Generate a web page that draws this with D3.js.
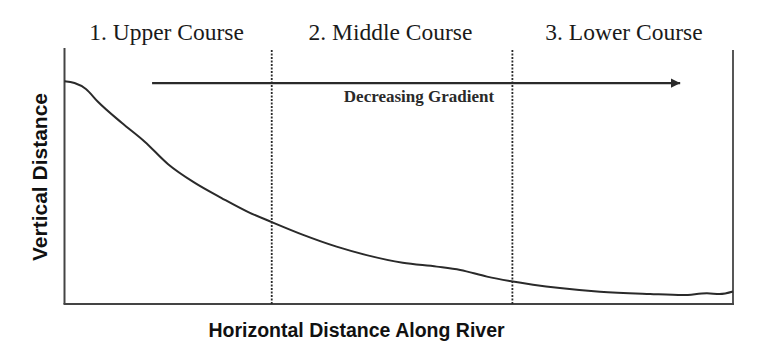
<!DOCTYPE html>
<html><head><meta charset="utf-8">
<script src="https://cdn.jsdelivr.net/npm/d3@7"></script>
<style>html,body{margin:0;padding:0;background:#fff;}svg{display:block;}</style>
</head><body>
<svg id="chart" width="768" height="354"></svg>
<script>
// Stage labels and boundaries (percent of horizontal distance)
const stages = ["1. Upper Course", "2. Middle Course", "3. Lower Course"];
const stageBounds = [0, 31, 67, 100];
// River long profile: horizontal distance (%) vs vertical distance (%)
const profileX = [0, 1.5, 3.2, 5.0, 8.6, 12.0, 15.5, 19.5, 23.5, 27.5, 31.0, 35.7, 40.7, 45.2, 50.6, 55.7, 59.2, 63.2, 66.6, 74.1, 80.1, 87.6, 92.5, 96.1, 98.0, 100];
const profileY = [87.0, 86.3, 84.0, 79.0, 70.7, 63.4, 54.6, 47.3, 41.4, 35.9, 32.0, 27.0, 22.4, 19.1, 16.1, 14.6, 13.3, 10.7, 9.0, 6.25, 4.8, 3.9, 3.5, 4.2, 3.9, 4.9];
// Gradient arrow
const arrowX = [13.1, 92.1];
const arrowY = 86.3;
const arrowLabel = "Decreasing Gradient";
const xLabel = "Horizontal Distance Along River";
const yLabel = "Vertical Distance";

const svg = d3.select("#chart");
const x = d3.scaleLinear().domain([0, 100]).range([64.5, 733]);
const y = d3.scaleLinear().domain([0, 100]).range([304, 48]);
const ink = "#2a2a2a";

svg.append("defs").append("marker")
  .attr("id", "ah").attr("viewBox", "0 0 10 10").attr("refX", 10).attr("refY", 5)
  .attr("markerWidth", 4.2).attr("markerHeight", 4.6).attr("markerUnits", "strokeWidth")
  .attr("orient", "auto")
  .append("path").attr("d", "M0,0 L10,5 L0,10 Z").attr("fill", ink);

// Axes frame (left, bottom, right)
svg.append("line").attr("x1", x(0)).attr("x2", x(0)).attr("y1", y(100)).attr("y2", y(0))
  .attr("stroke", "#444").attr("stroke-width", 2);
svg.append("line").attr("x1", x(0) - 1).attr("x2", x(100) + 1).attr("y1", y(0)).attr("y2", y(0))
  .attr("stroke", "#444").attr("stroke-width", 2);
svg.append("line").attr("x1", x(100)).attr("x2", x(100)).attr("y1", y(99.2)).attr("y2", y(0))
  .attr("stroke", "#444").attr("stroke-width", 1.8);

// Dotted stage boundaries
svg.selectAll("line.bound").data(stageBounds.slice(1, 3)).enter().append("line")
  .attr("class", "bound")
  .attr("x1", d => x(d)).attr("x2", d => x(d))
  .attr("y1", y(99.2)).attr("y2", y(0))
  .attr("stroke", "#2a2a2a").attr("stroke-width", 1.8).attr("stroke-dasharray", "2,1.5");

// Stage titles
svg.selectAll("text.stage").data(stages).enter().append("text")
  .attr("class", "stage")
  .attr("x", (d, i) => [166.5, 390.5, 624][i])
  .attr("y", 40)
  .attr("text-anchor", "middle")
  .attr("font-family", "'Liberation Serif', 'Times New Roman', serif")
  .attr("font-size", 23.5)
  .attr("fill", "#1a1a1a")
  .text(d => d);

// Profile line
const pts = profileX.map((v, i) => [v, profileY[i]]);
svg.append("path").datum(pts)
  .attr("d", d3.line().x(d => x(d[0])).y(d => y(d[1])).curve(d3.curveMonotoneX))
  .attr("fill", "none").attr("stroke", ink).attr("stroke-width", 2);

// Arrow
svg.append("line")
  .attr("x1", x(arrowX[0])).attr("x2", x(arrowX[1]))
  .attr("y1", y(arrowY)).attr("y2", y(arrowY))
  .attr("stroke", ink).attr("stroke-width", 2.2).attr("marker-end", "url(#ah)");
svg.append("text")
  .attr("x", 419).attr("y", 102)
  .attr("text-anchor", "middle")
  .attr("font-family", "'Liberation Serif', 'Times New Roman', serif")
  .attr("font-weight", "bold").attr("font-size", 17)
  .attr("fill", "#2a2a2a")
  .text(arrowLabel);

// Axis labels
svg.append("text")
  .attr("x", 356.5).attr("y", 337)
  .attr("text-anchor", "middle")
  .attr("font-family", "'Liberation Sans', Arial, sans-serif")
  .attr("font-weight", "bold").attr("font-size", 19.5)
  .attr("fill", "#111")
  .text(xLabel);
svg.append("text")
  .attr("transform", "translate(46.5,177) rotate(-90)")
  .attr("text-anchor", "middle")
  .attr("font-family", "'Liberation Sans', Arial, sans-serif")
  .attr("font-weight", "bold").attr("font-size", 21)
  .attr("fill", "#111")
  .text(yLabel);
</script>
</body></html>
